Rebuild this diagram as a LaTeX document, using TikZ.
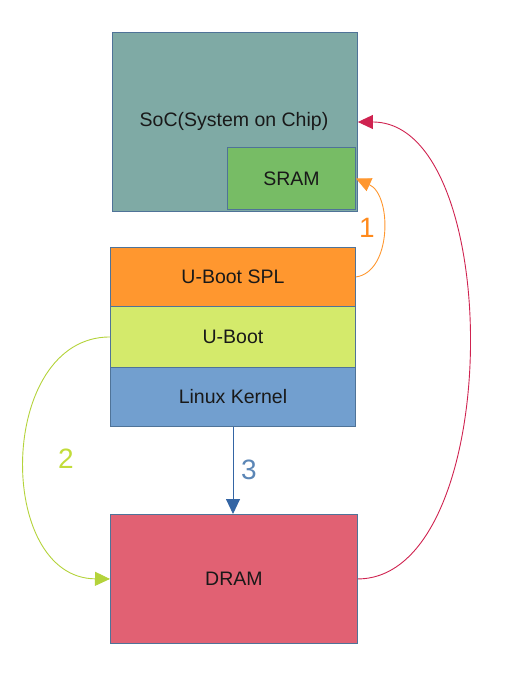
\documentclass[tikz,border=0pt]{standalone}
\usepackage{fontspec}
\setmainfont{Liberation Sans}
\usetikzlibrary{arrows.meta}
\definecolor{socfill}{HTML}{7FAAA5}
\definecolor{boxline}{HTML}{4F7398}
\definecolor{sramfill}{HTML}{77BC65}
\definecolor{splfill}{HTML}{FF972F}
\definecolor{ubfill}{HTML}{D4EA6B}
\definecolor{lkfill}{HTML}{729FCF}
\definecolor{dramfill}{HTML}{E16173}
\definecolor{arrorange}{HTML}{FF972F}
\definecolor{lblorange}{HTML}{FF8A1C}
\definecolor{arrgreen}{HTML}{B4D33B}
\definecolor{lblgreen}{HTML}{C2DC3A}
\definecolor{arrblue}{HTML}{3465A4}
\definecolor{lblblue}{HTML}{5B86B6}
\definecolor{arrred}{HTML}{CF2350}
\tikzset{
  blk/.style={draw=boxline, line width=0.9pt, inner sep=0pt, font=\fontsize{19.5}{22}\selectfont, text=black!90},
  conn/.style={line width=0.9pt, -{Triangle[length=15pt,width=14pt]}},
  lbl/.style={font=\fontsize{28}{32}\selectfont}
}
\begin{document}
\begin{tikzpicture}[x=1pt,y=-1pt]
\useasboundingbox (0,0) rectangle (516,693);
% SoC
\node[blk, fill=socfill, minimum width=245pt, minimum height=179pt, anchor=north west] (soc) at (112,32) {};
\node[font=\fontsize{19.5}{22}\selectfont, text=black!90] (soctext) at (234,121) {SoC(System on Chip)};
\node[blk, fill=sramfill, minimum width=128pt, minimum height=62pt, anchor=north west] (sram) at (227,147) {SRAM};
% stack
\node[blk, fill=splfill, minimum width=245pt, minimum height=59pt, anchor=north west] (spl) at (110,247) {U-Boot SPL};
\node[blk, fill=ubfill, minimum width=245pt, minimum height=61pt, anchor=north west] (ub) at (110,306) {U-Boot};
\node[blk, fill=lkfill, minimum width=245pt, minimum height=59pt, anchor=north west] (lk) at (110,367) {Linux Kernel};
% DRAM
\node[blk, fill=dramfill, minimum width=247pt, minimum height=129pt, anchor=north west] (dram) at (110,514) {DRAM};
% arrows
\draw[conn, draw=arrorange, color=arrorange] (spl.east) .. controls (392,272) and (392,195) .. (sram.east);
\node[lbl, text=lblorange] (l1) at (367,228) {1};
\draw[conn, draw=arrgreen, color=arrgreen] (ub.west) .. controls (-3,337) and (-5,578) .. (dram.west);
\node[lbl, text=lblgreen] (l2) at (66,459) {2};
\draw[conn, draw=arrblue, color=arrblue] (lk.south -| 233,0) -- (dram.north -| 233,0);
\node[lbl, text=lblblue] (l3) at (249,470) {3};
\draw[conn, draw=arrred, color=arrred] (dram.east) .. controls (505,578) and (506,122) .. (soc.east |- 0,122);
\end{tikzpicture}
\end{document}
